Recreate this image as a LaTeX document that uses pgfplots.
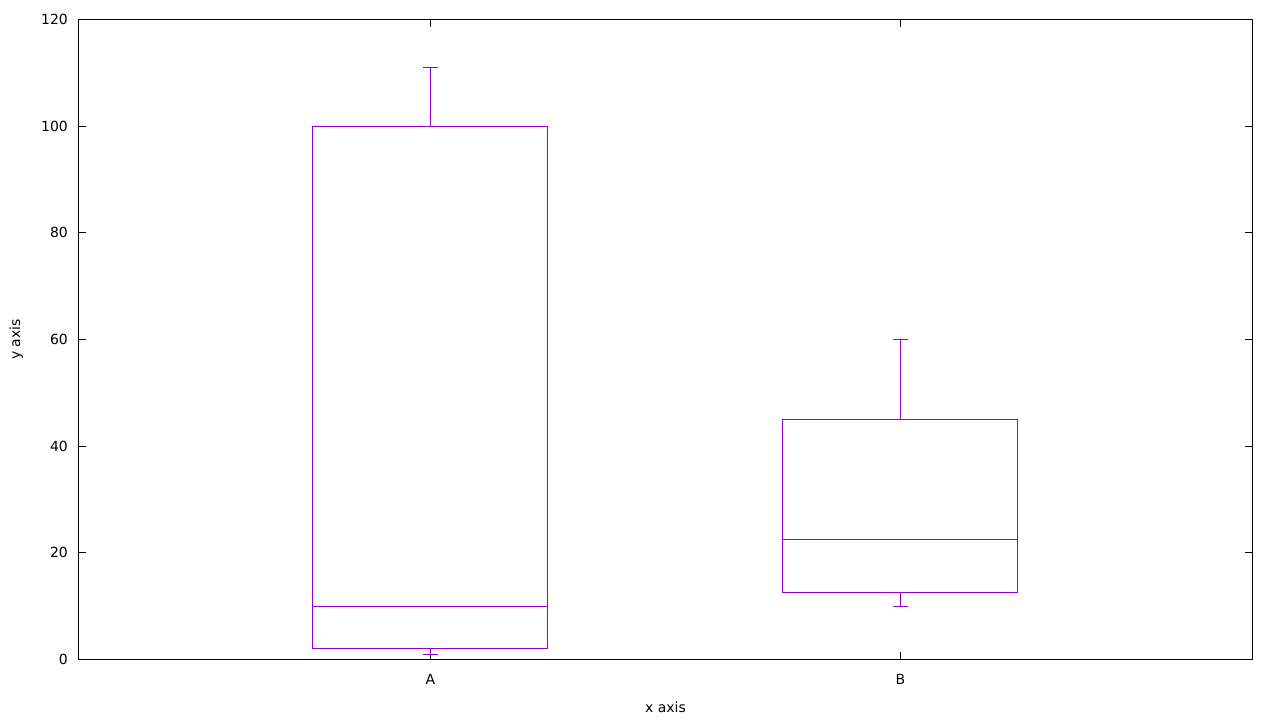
\documentclass[border=0pt]{standalone}
\usepackage{fontspec}
\setmainfont{DejaVu Sans}
\usepackage{pgfplots}
\pgfplotsset{compat=1.18}
\definecolor{gpviolet}{HTML}{9400D3}
\begin{document}
\begin{tikzpicture}
\path (0,0) rectangle (1280bp,720bp);
\begin{axis}[
  at={(78bp,60.5bp)}, anchor=south west,
  scale only axis, width=1175bp, height=640bp,
  xmin=0.25, xmax=2.75, ymin=0, ymax=120,
  xtick={1,2}, xticklabels={A,B},
  ytick={0,20,40,60,80,100,120},
  tick align=inside, major tick length=8bp,
  axis line style={black, line width=1bp},
  tick style={black, line width=1bp},
  /pgf/number format/assume math mode=true,
  ticklabel style={font=\fontsize{14}{16}\selectfont},
  yticklabel style={anchor=east, inner sep=0pt, xshift=-10bp},
  xticklabel style={anchor=north, inner sep=0pt, yshift=-15bp},
  xlabel={x axis}, ylabel={y axis},
  label style={font=\fontsize{14}{16}\selectfont},
  xlabel style={at={(axis description cs:0.5,-0.075)}, anchor=center, inner sep=0pt},
  ylabel style={at={(axis description cs:-0.0525,0.5)}, anchor=center, inner sep=0pt},
  gp/.style={draw=gpviolet, line width=1bp, mark=none, solid},
]
% Box A: lower whisker 1, Q1 2, median 10, Q3 100, upper whisker 111
\addplot[gp] coordinates {(0.75,2) (1.25,2) (1.25,100) (0.75,100) (0.75,2)};
\addplot[gp] coordinates {(0.75,10) (1.25,10)};
\addplot[gp] coordinates {(1,100) (1,111)};
\addplot[gp] coordinates {(0.984,111) (1.016,111)};
\addplot[gp] coordinates {(1,2) (1,1)};
\addplot[gp] coordinates {(0.984,1) (1.016,1)};
% Box B: lower whisker 10, Q1 12.5, median 22.5, Q3 45, upper whisker 60
\addplot[gp] coordinates {(1.75,12.5) (2.25,12.5) (2.25,45) (1.75,45) (1.75,12.5)};
\addplot[gp] coordinates {(1.75,22.5) (2.25,22.5)};
\addplot[gp] coordinates {(2,45) (2,60)};
\addplot[gp] coordinates {(1.984,60) (2.016,60)};
\addplot[gp] coordinates {(2,12.5) (2,10)};
\addplot[gp] coordinates {(1.984,10) (2.016,10)};
\end{axis}
\end{tikzpicture}
\end{document}
